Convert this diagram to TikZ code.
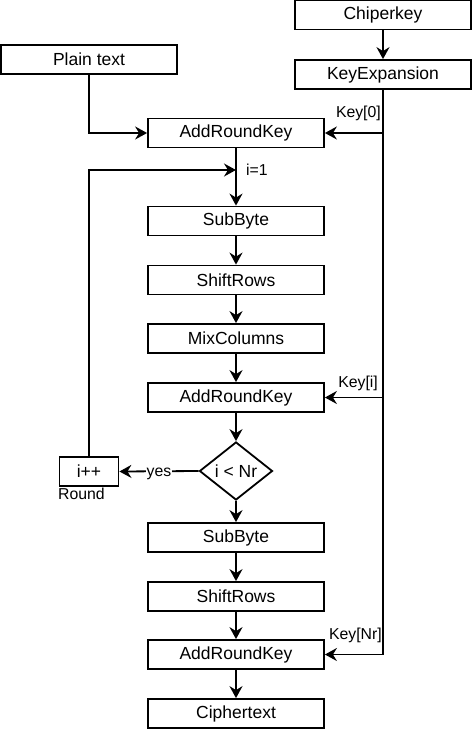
\documentclass[tikz,border=0pt]{standalone}
\usepackage{fontspec}
\setmainfont{Liberation Sans}
\usetikzlibrary{arrows.meta,shapes.geometric}
\begin{document}
\begin{tikzpicture}[x=1pt,y=-1pt,
  box/.style={draw, line width=1.8pt, minimum width=176pt, minimum height=29pt, inner sep=0pt, font=\fontsize{17.5}{20}\selectfont},
  smallbox/.style={draw, line width=1.8pt, minimum width=59pt, minimum height=29pt, inner sep=0pt, font=\fontsize{17.5}{20}\selectfont},
  dec/.style={draw, diamond, line width=1.8pt, minimum width=73pt, minimum height=58pt, aspect=1.26, inner sep=0pt, font=\fontsize{17.5}{20}\selectfont},
  lbl/.style={inner sep=0pt, font=\fontsize{15.8}{18}\selectfont},
  arr/.style={line width=1.8pt, -{Stealth[length=12pt,width=13pt,inset=4pt]}},
  ln/.style={line width=1.8pt}]
\useasboundingbox (0,0) rectangle (474,731);
\node[box] (chip) at (383,15) {Chiperkey};
\node[box] (kexp) at (383,74.5) {KeyExpansion};
\node[box] (plain) at (89,59.5) {Plain text};
\node[box] (ark1) at (236,133) {AddRoundKey};
\node[box] (sb1) at (236,221) {SubByte};
\node[box] (sr1) at (236,280) {ShiftRows};
\node[box] (mc) at (236,338.5) {MixColumns};
\node[box] (ark2) at (236,397.5) {AddRoundKey};
\node[dec] (cond) at (236,471) {i < Nr};
\node[smallbox] (ipp) at (89,471.5) {i++};
\node[box] (sb2) at (236,537.5) {SubByte};
\node[box] (sr2) at (236,596.5) {ShiftRows};
\node[box] (ark3) at (236,654.5) {AddRoundKey};
\node[box] (ct) at (236,713.5) {Ciphertext};
\coordinate (loopin) at (236,170);
% connectors
\draw[arr] (chip) -- (kexp);
\draw[arr] (plain.south) |- (ark1.west);
\draw[arr] (kexp.south) |- (ark1.east);
\draw[arr] (kexp.south) |- (ark2.east);
\draw[arr] (kexp.south) |- (ark3.east);
\draw[arr] (ark1) -- (sb1);
\draw[arr] (ipp.north) |- (loopin);
\draw[arr] (sb1) -- (sr1);
\draw[arr] (sr1) -- (mc);
\draw[arr] (mc) -- (ark2);
\draw[arr] (ark2) -- (cond);
\draw[arr] (cond.west) -- node[lbl, fill=white, inner xsep=1pt, yshift=-3pt] (yes) {yes} (ipp.east);
\draw[arr] (cond) -- (sb2);
\draw[arr] (sb2) -- (sr2);
\draw[arr] (sr2) -- (ark3);
\draw[arr] (ark3) -- (ct);
% labels
\node[lbl, anchor=east] (k0) at (381,113) {Key[0]};
\node[lbl, anchor=east] (ki) at (378,383) {Key[i]};
\node[lbl, anchor=east] (knr) at (382,635) {Key[Nr]};
\node[lbl, anchor=west] (i1) at (246,170) {i=1};
\node[lbl, anchor=north west] (round) at (58,488) {Round};
\end{tikzpicture}
\end{document}
